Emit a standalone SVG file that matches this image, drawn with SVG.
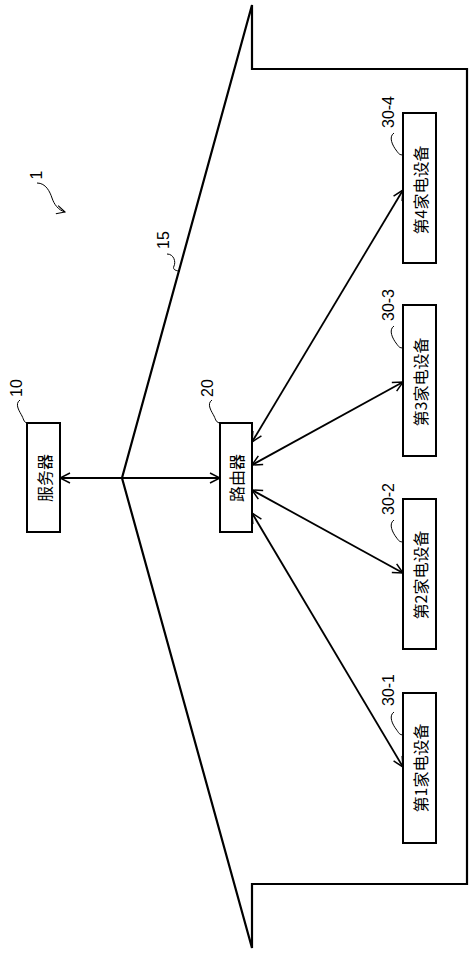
<svg xmlns="http://www.w3.org/2000/svg" width="474" height="955" viewBox="0 0 474 955">
<defs>
<marker id="ah" viewBox="0 0 12 12" refX="11" refY="6" markerWidth="12" markerHeight="12" markerUnits="userSpaceOnUse" orient="auto-start-reverse">
<path d="M1,1 L11,6 L1,11" fill="none" stroke="#000" stroke-width="1.5"/>
</marker>
<marker id="ah2" viewBox="0 0 12 12" refX="11" refY="6" markerWidth="10" markerHeight="10" markerUnits="userSpaceOnUse" orient="auto">
<path d="M1,1 L11,6 L1,11" fill="none" stroke="#000" stroke-width="1.3"/>
</marker>
</defs>
<style>
.box{fill:#fff;stroke:#000;stroke-width:2}
.t{font-family:"Noto Sans CJK SC","Liberation Sans",sans-serif;font-size:16px;fill:#000;text-anchor:middle;dominant-baseline:central}
.lb{font-family:"Liberation Sans",sans-serif;font-size:16px;fill:#000;text-anchor:middle;dominant-baseline:central}
.ld{fill:none;stroke:#000;stroke-width:1}
.cn{fill:none;stroke:#000;stroke-width:1.8}
</style>
<rect width="474" height="955" fill="#fff"/>
<g id="home15">
<path d="M252,5 L252,69 L467,69 L467,884 L252,884 L252,948 L122,478 Z" fill="none" stroke="#000" stroke-width="2.2" stroke-linejoin="miter"/>
<text class="lb" transform="translate(163,240) rotate(-90)">15</text>
<path class="ld" d="M167,254 C174,254 176,262 174,266 S177,271 180,271"/>
</g>
<g id="label1">
<text class="lb" transform="translate(36,175) rotate(-90)">1</text>
<path class="ld" d="M37,183 C46,183 50,192 52,198 S58,210 65,212" marker-end="url(#ah2)"/>
</g>
<g id="connectors">
<line class="cn" x1="60" y1="478" x2="220" y2="478" marker-start="url(#ah)" marker-end="url(#ah)"/>
<line class="cn" x1="252" y1="442" x2="403" y2="190" marker-start="url(#ah)" marker-end="url(#ah)"/>
<line class="cn" x1="252" y1="465" x2="403" y2="382" marker-start="url(#ah)" marker-end="url(#ah)"/>
<line class="cn" x1="252" y1="490" x2="403" y2="573" marker-start="url(#ah)" marker-end="url(#ah)"/>
<line class="cn" x1="252" y1="513" x2="403" y2="767" marker-start="url(#ah)" marker-end="url(#ah)"/>
</g>
<g id="server10">
<rect class="box" x="27" y="423" width="33" height="109"/>
<text class="t" transform="translate(43.5,478) rotate(-90)">服务器</text>
<text class="lb" transform="translate(16,388) rotate(-90)">10</text>
<path class="ld" d="M20,400 C14,404 20,412 22,416 S24,423 28,423"/>
</g>
<g id="router20">
<rect class="box" x="220" y="423" width="32" height="109"/>
<text class="t" transform="translate(236,478) rotate(-90)">路由器</text>
<text class="lb" transform="translate(207,388) rotate(-90)">20</text>
<path class="ld" d="M212,400 C206,404 212,412 214,416 S216,423 221,423"/>
</g>
<g id="dev4">
<rect class="box" x="403" y="113" width="33" height="150"/>
<text class="t" transform="translate(419.5,190) rotate(-90)">第4家电设备</text>
<text class="lb" transform="translate(388,112) rotate(-90)">30-4</text>
<path class="ld" d="M394,133 C388,137 393,146 396,150 S399,155 404,155"/>
</g>
<g id="dev3">
<rect class="box" x="403" y="305" width="33" height="151"/>
<text class="t" transform="translate(419.5,382) rotate(-90)">第3家电设备</text>
<text class="lb" transform="translate(388,305) rotate(-90)">30-3</text>
<path class="ld" d="M394,326 C388,330 393,339 396,343 S399,348 404,348"/>
</g>
<g id="dev2">
<rect class="box" x="403" y="499" width="33" height="150"/>
<text class="t" transform="translate(419.5,575) rotate(-90)">第2家电设备</text>
<text class="lb" transform="translate(388,499) rotate(-90)">30-2</text>
<path class="ld" d="M394,520 C388,524 393,533 396,537 S399,542 404,542"/>
</g>
<g id="dev1">
<rect class="box" x="403" y="693" width="33" height="150"/>
<text class="t" transform="translate(419.5,768) rotate(-90)">第1家电设备</text>
<text class="lb" transform="translate(388,690) rotate(-90)">30-1</text>
<path class="ld" d="M394,712 C388,716 393,725 396,729 S399,735 404,735"/>
</g>
</svg>
